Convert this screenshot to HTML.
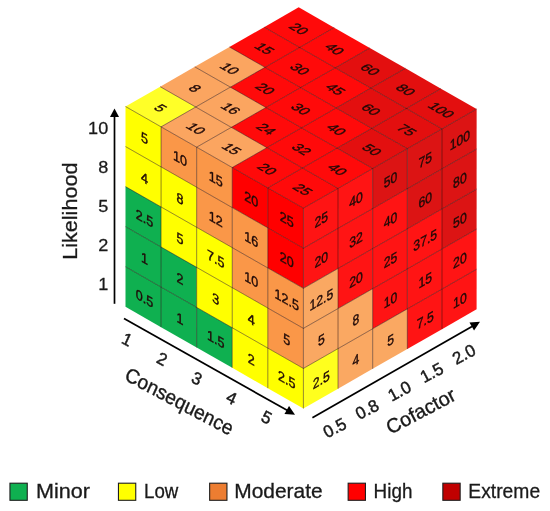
<!DOCTYPE html>
<html lang="en"><head><meta charset="utf-8"><title>Risk cube</title>
<style>html,body{margin:0;padding:0;background:#fff}body{width:550px;height:511px;overflow:hidden}</style></head>
<body>
<svg width="550" height="511" viewBox="0 0 550 511" style="display:block;font-family:'Liberation Sans',sans-serif">
<rect width="550" height="511" fill="#fff"/>
<g stroke="none" shape-rendering="geometricPrecision">
<polygon points="125.50,106.50 161.08,126.84 161.08,166.90 125.50,146.56" fill="#ffff00"/>
<polygon points="161.08,126.84 196.66,147.18 196.66,187.24 161.08,166.90" fill="#fa9748"/>
<polygon points="196.66,147.18 232.24,167.52 232.24,207.58 196.66,187.24" fill="#fa9748"/>
<polygon points="232.24,167.52 267.82,187.86 267.82,227.92 232.24,207.58" fill="#ff0000"/>
<polygon points="267.82,187.86 303.40,208.20 303.40,248.26 267.82,227.92" fill="#ff0000"/>
<polygon points="125.50,146.56 161.08,166.90 161.08,206.96 125.50,186.62" fill="#ffff00"/>
<polygon points="161.08,166.90 196.66,187.24 196.66,227.30 161.08,206.96" fill="#ffff00"/>
<polygon points="196.66,187.24 232.24,207.58 232.24,247.64 196.66,227.30" fill="#fa9748"/>
<polygon points="232.24,207.58 267.82,227.92 267.82,267.98 232.24,247.64" fill="#fa9748"/>
<polygon points="267.82,227.92 303.40,248.26 303.40,288.32 267.82,267.98" fill="#ff0000"/>
<polygon points="125.50,186.62 161.08,206.96 161.08,247.02 125.50,226.68" fill="#0fb050"/>
<polygon points="161.08,206.96 196.66,227.30 196.66,267.36 161.08,247.02" fill="#ffff00"/>
<polygon points="196.66,227.30 232.24,247.64 232.24,287.70 196.66,267.36" fill="#ffff00"/>
<polygon points="232.24,247.64 267.82,267.98 267.82,308.04 232.24,287.70" fill="#fa9748"/>
<polygon points="267.82,267.98 303.40,288.32 303.40,328.38 267.82,308.04" fill="#fa9748"/>
<polygon points="125.50,226.68 161.08,247.02 161.08,287.08 125.50,266.74" fill="#0fb050"/>
<polygon points="161.08,247.02 196.66,267.36 196.66,307.42 161.08,287.08" fill="#0fb050"/>
<polygon points="196.66,267.36 232.24,287.70 232.24,327.76 196.66,307.42" fill="#ffff00"/>
<polygon points="232.24,287.70 267.82,308.04 267.82,348.10 232.24,327.76" fill="#ffff00"/>
<polygon points="267.82,308.04 303.40,328.38 303.40,368.44 267.82,348.10" fill="#fa9748"/>
<polygon points="125.50,266.74 161.08,287.08 161.08,327.14 125.50,306.80" fill="#0fb050"/>
<polygon points="161.08,287.08 196.66,307.42 196.66,347.48 161.08,327.14" fill="#0fb050"/>
<polygon points="196.66,307.42 232.24,327.76 232.24,367.82 196.66,347.48" fill="#0fb050"/>
<polygon points="232.24,327.76 267.82,348.10 267.82,388.16 232.24,367.82" fill="#ffff00"/>
<polygon points="267.82,348.10 303.40,368.44 303.40,408.50 267.82,388.16" fill="#ffff00"/>
<polygon points="303.40,208.20 338.04,188.36 338.04,228.42 303.40,248.26" fill="#ff1414"/>
<polygon points="338.04,188.36 372.68,168.52 372.68,208.58 338.04,228.42" fill="#ff1414"/>
<polygon points="372.68,168.52 407.32,148.68 407.32,188.74 372.68,208.58" fill="#dc1414"/>
<polygon points="407.32,148.68 441.96,128.84 441.96,168.90 407.32,188.74" fill="#dc1414"/>
<polygon points="441.96,128.84 476.60,109.00 476.60,149.06 441.96,168.90" fill="#dc1414"/>
<polygon points="303.40,248.26 338.04,228.42 338.04,268.48 303.40,288.32" fill="#ff1414"/>
<polygon points="338.04,228.42 372.68,208.58 372.68,248.64 338.04,268.48" fill="#ff1414"/>
<polygon points="372.68,208.58 407.32,188.74 407.32,228.80 372.68,248.64" fill="#ff1414"/>
<polygon points="407.32,188.74 441.96,168.90 441.96,208.96 407.32,228.80" fill="#dc1414"/>
<polygon points="441.96,168.90 476.60,149.06 476.60,189.12 441.96,208.96" fill="#dc1414"/>
<polygon points="303.40,288.32 338.04,268.48 338.04,308.54 303.40,328.38" fill="#faa862"/>
<polygon points="338.04,268.48 372.68,248.64 372.68,288.70 338.04,308.54" fill="#ff1414"/>
<polygon points="372.68,248.64 407.32,228.80 407.32,268.86 372.68,288.70" fill="#ff1414"/>
<polygon points="407.32,228.80 441.96,208.96 441.96,249.02 407.32,268.86" fill="#ff1414"/>
<polygon points="441.96,208.96 476.60,189.12 476.60,229.18 441.96,249.02" fill="#dc1414"/>
<polygon points="303.40,328.38 338.04,308.54 338.04,348.60 303.40,368.44" fill="#faa862"/>
<polygon points="338.04,308.54 372.68,288.70 372.68,328.76 338.04,348.60" fill="#faa862"/>
<polygon points="372.68,288.70 407.32,268.86 407.32,308.92 372.68,328.76" fill="#ff1414"/>
<polygon points="407.32,268.86 441.96,249.02 441.96,289.08 407.32,308.92" fill="#ff1414"/>
<polygon points="441.96,249.02 476.60,229.18 476.60,269.24 441.96,289.08" fill="#ff1414"/>
<polygon points="303.40,368.44 338.04,348.60 338.04,388.66 303.40,408.50" fill="#ffff1e"/>
<polygon points="338.04,348.60 372.68,328.76 372.68,368.82 338.04,388.66" fill="#faa862"/>
<polygon points="372.68,328.76 407.32,308.92 407.32,348.98 372.68,368.82" fill="#faa862"/>
<polygon points="407.32,308.92 441.96,289.08 441.96,329.14 407.32,348.98" fill="#ff1414"/>
<polygon points="441.96,289.08 476.60,269.24 476.60,309.30 441.96,329.14" fill="#ff1414"/>
<polygon points="125.50,106.50 161.08,126.84 195.72,107.00 160.14,86.66" fill="#ffff28"/>
<polygon points="160.14,86.66 195.72,107.00 230.36,87.16 194.78,66.82" fill="#fba560"/>
<polygon points="194.78,66.82 230.36,87.16 265.00,67.32 229.42,46.98" fill="#fba560"/>
<polygon points="229.42,46.98 265.00,67.32 299.64,47.48 264.06,27.14" fill="#ff0a0a"/>
<polygon points="264.06,27.14 299.64,47.48 334.28,27.64 298.70,7.30" fill="#ff0a0a"/>
<polygon points="161.08,126.84 196.66,147.18 231.30,127.34 195.72,107.00" fill="#fba560"/>
<polygon points="195.72,107.00 231.30,127.34 265.94,107.50 230.36,87.16" fill="#fba560"/>
<polygon points="230.36,87.16 265.94,107.50 300.58,87.66 265.00,67.32" fill="#ff0a0a"/>
<polygon points="265.00,67.32 300.58,87.66 335.22,67.82 299.64,47.48" fill="#ff0a0a"/>
<polygon points="299.64,47.48 335.22,67.82 369.86,47.98 334.28,27.64" fill="#ff0a0a"/>
<polygon points="196.66,147.18 232.24,167.52 266.88,147.68 231.30,127.34" fill="#fba560"/>
<polygon points="231.30,127.34 266.88,147.68 301.52,127.84 265.94,107.50" fill="#ff0a0a"/>
<polygon points="265.94,107.50 301.52,127.84 336.16,108.00 300.58,87.66" fill="#ff0a0a"/>
<polygon points="300.58,87.66 336.16,108.00 370.80,88.16 335.22,67.82" fill="#ff0a0a"/>
<polygon points="335.22,67.82 370.80,88.16 405.44,68.32 369.86,47.98" fill="#e30f0f"/>
<polygon points="232.24,167.52 267.82,187.86 302.46,168.02 266.88,147.68" fill="#ff0a0a"/>
<polygon points="266.88,147.68 302.46,168.02 337.10,148.18 301.52,127.84" fill="#ff0a0a"/>
<polygon points="301.52,127.84 337.10,148.18 371.74,128.34 336.16,108.00" fill="#ff0a0a"/>
<polygon points="336.16,108.00 371.74,128.34 406.38,108.50 370.80,88.16" fill="#e30f0f"/>
<polygon points="370.80,88.16 406.38,108.50 441.02,88.66 405.44,68.32" fill="#e30f0f"/>
<polygon points="267.82,187.86 303.40,208.20 338.04,188.36 302.46,168.02" fill="#ff0a0a"/>
<polygon points="302.46,168.02 338.04,188.36 372.68,168.52 337.10,148.18" fill="#ff0a0a"/>
<polygon points="337.10,148.18 372.68,168.52 407.32,148.68 371.74,128.34" fill="#e30f0f"/>
<polygon points="371.74,128.34 407.32,148.68 441.96,128.84 406.38,108.50" fill="#e30f0f"/>
<polygon points="406.38,108.50 441.96,128.84 476.60,109.00 441.02,88.66" fill="#e30f0f"/>
</g>
<g stroke="#1a0000" stroke-opacity="0.58" stroke-width="0.8" fill="none">
<line x1="125.50" y1="106.50" x2="303.40" y2="208.20"/>
<line x1="303.40" y1="208.20" x2="476.60" y2="109.00"/>
<line x1="161.08" y1="126.84" x2="161.08" y2="327.14"/>
<line x1="125.50" y1="146.56" x2="303.40" y2="248.26"/>
<line x1="338.04" y1="188.36" x2="338.04" y2="388.66"/>
<line x1="303.40" y1="248.26" x2="476.60" y2="149.06"/>
<line x1="161.08" y1="126.84" x2="334.28" y2="27.64"/>
<line x1="160.14" y1="86.66" x2="338.04" y2="188.36"/>
<line x1="196.66" y1="147.18" x2="196.66" y2="347.48"/>
<line x1="125.50" y1="186.62" x2="303.40" y2="288.32"/>
<line x1="372.68" y1="168.52" x2="372.68" y2="368.82"/>
<line x1="303.40" y1="288.32" x2="476.60" y2="189.12"/>
<line x1="196.66" y1="147.18" x2="369.86" y2="47.98"/>
<line x1="194.78" y1="66.82" x2="372.68" y2="168.52"/>
<line x1="232.24" y1="167.52" x2="232.24" y2="367.82"/>
<line x1="125.50" y1="226.68" x2="303.40" y2="328.38"/>
<line x1="407.32" y1="148.68" x2="407.32" y2="348.98"/>
<line x1="303.40" y1="328.38" x2="476.60" y2="229.18"/>
<line x1="232.24" y1="167.52" x2="405.44" y2="68.32"/>
<line x1="229.42" y1="46.98" x2="407.32" y2="148.68"/>
<line x1="267.82" y1="187.86" x2="267.82" y2="388.16"/>
<line x1="125.50" y1="266.74" x2="303.40" y2="368.44"/>
<line x1="441.96" y1="128.84" x2="441.96" y2="329.14"/>
<line x1="303.40" y1="368.44" x2="476.60" y2="269.24"/>
<line x1="267.82" y1="187.86" x2="441.02" y2="88.66"/>
<line x1="264.06" y1="27.14" x2="441.96" y2="128.84"/>
<line x1="303.40" y1="208.20" x2="303.40" y2="408.50"/>
</g>
<g fill="#200a08" stroke="#200a08" stroke-width="0.4" font-size="14.10" text-anchor="middle">
<text transform="matrix(0.8895 0.5085 0.0000 1.0000 144.49 137.90)" y="5.08">5</text>
<text transform="matrix(0.8895 0.5085 0.0000 1.0000 180.07 158.24)" y="5.08">10</text>
<text transform="matrix(0.8895 0.5085 0.0000 1.0000 215.65 178.58)" y="5.08">15</text>
<text transform="matrix(0.8895 0.5085 0.0000 1.0000 251.23 198.92)" y="5.08">20</text>
<text transform="matrix(0.8895 0.5085 0.0000 1.0000 286.81 219.26)" y="5.08">25</text>
<text transform="matrix(0.8895 0.5085 0.0000 1.0000 144.49 177.96)" y="5.08">4</text>
<text transform="matrix(0.8895 0.5085 0.0000 1.0000 180.07 198.30)" y="5.08">8</text>
<text transform="matrix(0.8895 0.5085 0.0000 1.0000 215.65 218.64)" y="5.08">12</text>
<text transform="matrix(0.8895 0.5085 0.0000 1.0000 251.23 238.98)" y="5.08">16</text>
<text transform="matrix(0.8895 0.5085 0.0000 1.0000 286.81 259.32)" y="5.08">20</text>
<text transform="matrix(0.8895 0.5085 0.0000 1.0000 144.49 218.02)" y="5.08">2.5</text>
<text transform="matrix(0.8895 0.5085 0.0000 1.0000 180.07 238.36)" y="5.08">5</text>
<text transform="matrix(0.8895 0.5085 0.0000 1.0000 215.65 258.70)" y="5.08">7.5</text>
<text transform="matrix(0.8895 0.5085 0.0000 1.0000 251.23 279.04)" y="5.08">10</text>
<text transform="matrix(0.8895 0.5085 0.0000 1.0000 286.81 299.38)" y="5.08">12.5</text>
<text transform="matrix(0.8895 0.5085 0.0000 1.0000 144.49 258.08)" y="5.08">1</text>
<text transform="matrix(0.8895 0.5085 0.0000 1.0000 180.07 278.42)" y="5.08">2</text>
<text transform="matrix(0.8895 0.5085 0.0000 1.0000 215.65 298.76)" y="5.08">3</text>
<text transform="matrix(0.8895 0.5085 0.0000 1.0000 251.23 319.10)" y="5.08">4</text>
<text transform="matrix(0.8895 0.5085 0.0000 1.0000 286.81 339.44)" y="5.08">5</text>
<text transform="matrix(0.8895 0.5085 0.0000 1.0000 144.49 298.14)" y="5.08">0.5</text>
<text transform="matrix(0.8895 0.5085 0.0000 1.0000 180.07 318.48)" y="5.08">1</text>
<text transform="matrix(0.8895 0.5085 0.0000 1.0000 215.65 338.82)" y="5.08">1.5</text>
<text transform="matrix(0.8895 0.5085 0.0000 1.0000 251.23 359.16)" y="5.08">2</text>
<text transform="matrix(0.8895 0.5085 0.0000 1.0000 286.81 379.50)" y="5.08">2.5</text>
<text transform="matrix(0.8660 -0.4960 0.0000 1.0000 321.32 219.21)" y="5.08">25</text>
<text transform="matrix(0.8660 -0.4960 0.0000 1.0000 355.96 199.37)" y="5.08">40</text>
<text transform="matrix(0.8660 -0.4960 0.0000 1.0000 390.60 179.53)" y="5.08">50</text>
<text transform="matrix(0.8660 -0.4960 0.0000 1.0000 425.24 159.69)" y="5.08">75</text>
<text transform="matrix(0.8660 -0.4960 0.0000 1.0000 459.88 139.85)" y="5.08">100</text>
<text transform="matrix(0.8660 -0.4960 0.0000 1.0000 321.32 259.27)" y="5.08">20</text>
<text transform="matrix(0.8660 -0.4960 0.0000 1.0000 355.96 239.43)" y="5.08">32</text>
<text transform="matrix(0.8660 -0.4960 0.0000 1.0000 390.60 219.59)" y="5.08">40</text>
<text transform="matrix(0.8660 -0.4960 0.0000 1.0000 425.24 199.75)" y="5.08">60</text>
<text transform="matrix(0.8660 -0.4960 0.0000 1.0000 459.88 179.91)" y="5.08">80</text>
<text transform="matrix(0.8660 -0.4960 0.0000 1.0000 321.32 299.33)" y="5.08">12.5</text>
<text transform="matrix(0.8660 -0.4960 0.0000 1.0000 355.96 279.49)" y="5.08">20</text>
<text transform="matrix(0.8660 -0.4960 0.0000 1.0000 390.60 259.65)" y="5.08">25</text>
<text transform="matrix(0.8660 -0.4960 0.0000 1.0000 425.24 239.81)" y="5.08">37.5</text>
<text transform="matrix(0.8660 -0.4960 0.0000 1.0000 459.88 219.97)" y="5.08">50</text>
<text transform="matrix(0.8660 -0.4960 0.0000 1.0000 321.32 339.39)" y="5.08">5</text>
<text transform="matrix(0.8660 -0.4960 0.0000 1.0000 355.96 319.55)" y="5.08">8</text>
<text transform="matrix(0.8660 -0.4960 0.0000 1.0000 390.60 299.71)" y="5.08">10</text>
<text transform="matrix(0.8660 -0.4960 0.0000 1.0000 425.24 279.87)" y="5.08">15</text>
<text transform="matrix(0.8660 -0.4960 0.0000 1.0000 459.88 260.03)" y="5.08">20</text>
<text transform="matrix(0.8660 -0.4960 0.0000 1.0000 321.32 379.45)" y="5.08">2.5</text>
<text transform="matrix(0.8660 -0.4960 0.0000 1.0000 355.96 359.61)" y="5.08">4</text>
<text transform="matrix(0.8660 -0.4960 0.0000 1.0000 390.60 339.77)" y="5.08">5</text>
<text transform="matrix(0.8660 -0.4960 0.0000 1.0000 425.24 319.93)" y="5.08">7.5</text>
<text transform="matrix(0.8660 -0.4960 0.0000 1.0000 459.88 300.09)" y="5.08">10</text>
<text transform="matrix(0.8895 0.5085 -0.8660 0.4960 160.61 108.05)" y="5.08">5</text>
<text transform="matrix(0.8895 0.5085 -0.8660 0.4960 195.25 88.21)" y="5.08">8</text>
<text transform="matrix(0.8895 0.5085 -0.8660 0.4960 229.89 68.37)" y="5.08">10</text>
<text transform="matrix(0.8895 0.5085 -0.8660 0.4960 264.53 48.53)" y="5.08">15</text>
<text transform="matrix(0.8895 0.5085 -0.8660 0.4960 299.17 28.69)" y="5.08">20</text>
<text transform="matrix(0.8895 0.5085 -0.8660 0.4960 196.19 128.39)" y="5.08">10</text>
<text transform="matrix(0.8895 0.5085 -0.8660 0.4960 230.83 108.55)" y="5.08">16</text>
<text transform="matrix(0.8895 0.5085 -0.8660 0.4960 265.47 88.71)" y="5.08">20</text>
<text transform="matrix(0.8895 0.5085 -0.8660 0.4960 300.11 68.87)" y="5.08">30</text>
<text transform="matrix(0.8895 0.5085 -0.8660 0.4960 334.75 49.03)" y="5.08">40</text>
<text transform="matrix(0.8895 0.5085 -0.8660 0.4960 231.77 148.73)" y="5.08">15</text>
<text transform="matrix(0.8895 0.5085 -0.8660 0.4960 266.41 128.89)" y="5.08">24</text>
<text transform="matrix(0.8895 0.5085 -0.8660 0.4960 301.05 109.05)" y="5.08">30</text>
<text transform="matrix(0.8895 0.5085 -0.8660 0.4960 335.69 89.21)" y="5.08">45</text>
<text transform="matrix(0.8895 0.5085 -0.8660 0.4960 370.33 69.37)" y="5.08">60</text>
<text transform="matrix(0.8895 0.5085 -0.8660 0.4960 267.35 169.07)" y="5.08">20</text>
<text transform="matrix(0.8895 0.5085 -0.8660 0.4960 301.99 149.23)" y="5.08">32</text>
<text transform="matrix(0.8895 0.5085 -0.8660 0.4960 336.63 129.39)" y="5.08">40</text>
<text transform="matrix(0.8895 0.5085 -0.8660 0.4960 371.27 109.55)" y="5.08">60</text>
<text transform="matrix(0.8895 0.5085 -0.8660 0.4960 405.91 89.71)" y="5.08">80</text>
<text transform="matrix(0.8895 0.5085 -0.8660 0.4960 302.93 189.41)" y="5.08">25</text>
<text transform="matrix(0.8895 0.5085 -0.8660 0.4960 337.57 169.57)" y="5.08">40</text>
<text transform="matrix(0.8895 0.5085 -0.8660 0.4960 372.21 149.73)" y="5.08">50</text>
<text transform="matrix(0.8895 0.5085 -0.8660 0.4960 406.85 129.89)" y="5.08">75</text>
<text transform="matrix(0.8895 0.5085 -0.8660 0.4960 441.49 110.05)" y="5.08">100</text>
</g>
<g stroke="#000" stroke-width="1.7" fill="none">
<line x1="114.5" y1="303.8" x2="114.5" y2="116"/>
<line x1="124" y1="318.5" x2="288" y2="410.8"/>
<line x1="312.4" y1="417.7" x2="472" y2="326.4"/>
</g>
<g fill="#000">
<polygon points="114.5,108.5 110,117 119,117"/>
<polygon points="295.00,414.80 284.47,414.08 289.04,406.09"/>
<polygon points="480.00,321.80 474.04,330.51 469.47,322.53"/>
</g>
<g fill="#1a1a1a" stroke="#1a1a1a" stroke-width="0.25" font-size="16" text-anchor="end">
<text transform="translate(108.2,134.0) scale(1.13,1)">10</text>
<text transform="translate(108.2,172.8) scale(1.13,1)">8</text>
<text transform="translate(108.2,211.8) scale(1.13,1)">5</text>
<text transform="translate(108.2,250.8) scale(1.13,1)">2</text>
<text transform="translate(108.2,290.3) scale(1.13,1)">1</text>
</g>
<text transform="translate(76.9,211.2) rotate(-90) scale(1.07,1)" text-anchor="middle" font-size="20.2" fill="#1a1a1a" stroke="#1a1a1a" stroke-width="0.3">Likelihood</text>
<g fill="#1a1a1a" stroke="#1a1a1a" stroke-width="0.45" font-size="17" text-anchor="middle">
<text transform="matrix(0.8800 0.4740 -0.4200 0.9100 124.70 344.80)">1</text>
<text transform="matrix(0.8800 0.4740 -0.4200 0.9100 159.55 364.30)">2</text>
<text transform="matrix(0.8800 0.4740 -0.4200 0.9100 194.40 383.80)">3</text>
<text transform="matrix(0.8800 0.4740 -0.4200 0.9100 229.25 403.30)">4</text>
<text transform="matrix(0.8800 0.4740 -0.4200 0.9100 264.10 422.80)">5</text>
</g>
<text transform="matrix(0.8610 0.4580 -0.4200 0.9100 176.50 407.60)" text-anchor="middle" font-size="20" fill="#1a1a1a" stroke="#1a1a1a" stroke-width="0.35">Consequence</text>
<g fill="#1a1a1a" stroke="#1a1a1a" stroke-width="0.45" font-size="17" text-anchor="middle">
<text transform="translate(337.50,433.00) rotate(-27.80)">0.5</text>
<text transform="translate(369.80,414.60) rotate(-27.80)">0.8</text>
<text transform="translate(402.10,396.20) rotate(-27.80)">1.0</text>
<text transform="translate(434.40,377.80) rotate(-27.80)">1.5</text>
<text transform="translate(466.70,359.40) rotate(-27.80)">2.0</text>
</g>
<text transform="translate(424.00,417.00) rotate(-27.80)" text-anchor="middle" font-size="20" fill="#1a1a1a" stroke="#1a1a1a" stroke-width="0.35">Cofactor</text>
<rect x="9.95" y="483.2" width="17.3" height="17.1" fill="#0fb050" stroke="#1e1e1e" stroke-width="1.1"/>
<text transform="translate(35.9,498.4) scale(1.070,1)" font-size="20.2" fill="#1a1a1a" stroke="#1a1a1a" stroke-width="0.3">Minor</text>
<rect x="118.45" y="483.2" width="17.3" height="17.1" fill="#ffff00" stroke="#1e1e1e" stroke-width="1.1"/>
<text transform="translate(144.1,498.4) scale(0.925,1)" font-size="20.2" fill="#1a1a1a" stroke="#1a1a1a" stroke-width="0.3">Low</text>
<rect x="209.65" y="483.2" width="17.3" height="17.1" fill="#ed7d31" stroke="#1e1e1e" stroke-width="1.1"/>
<text transform="translate(234.2,498.4) scale(1.037,1)" font-size="20.2" fill="#1a1a1a" stroke="#1a1a1a" stroke-width="0.3">Moderate</text>
<rect x="348.15" y="483.2" width="17.3" height="17.1" fill="#ff0000" stroke="#1e1e1e" stroke-width="1.1"/>
<text transform="translate(373.6,498.4) scale(0.934,1)" font-size="20.2" fill="#1a1a1a" stroke="#1a1a1a" stroke-width="0.3">High</text>
<rect x="442.85" y="483.2" width="17.3" height="17.1" fill="#c00000" stroke="#1e1e1e" stroke-width="1.1"/>
<text transform="translate(468.3,498.4) scale(0.955,1)" font-size="20.2" fill="#1a1a1a" stroke="#1a1a1a" stroke-width="0.3">Extreme</text>
</svg>
</body></html>
